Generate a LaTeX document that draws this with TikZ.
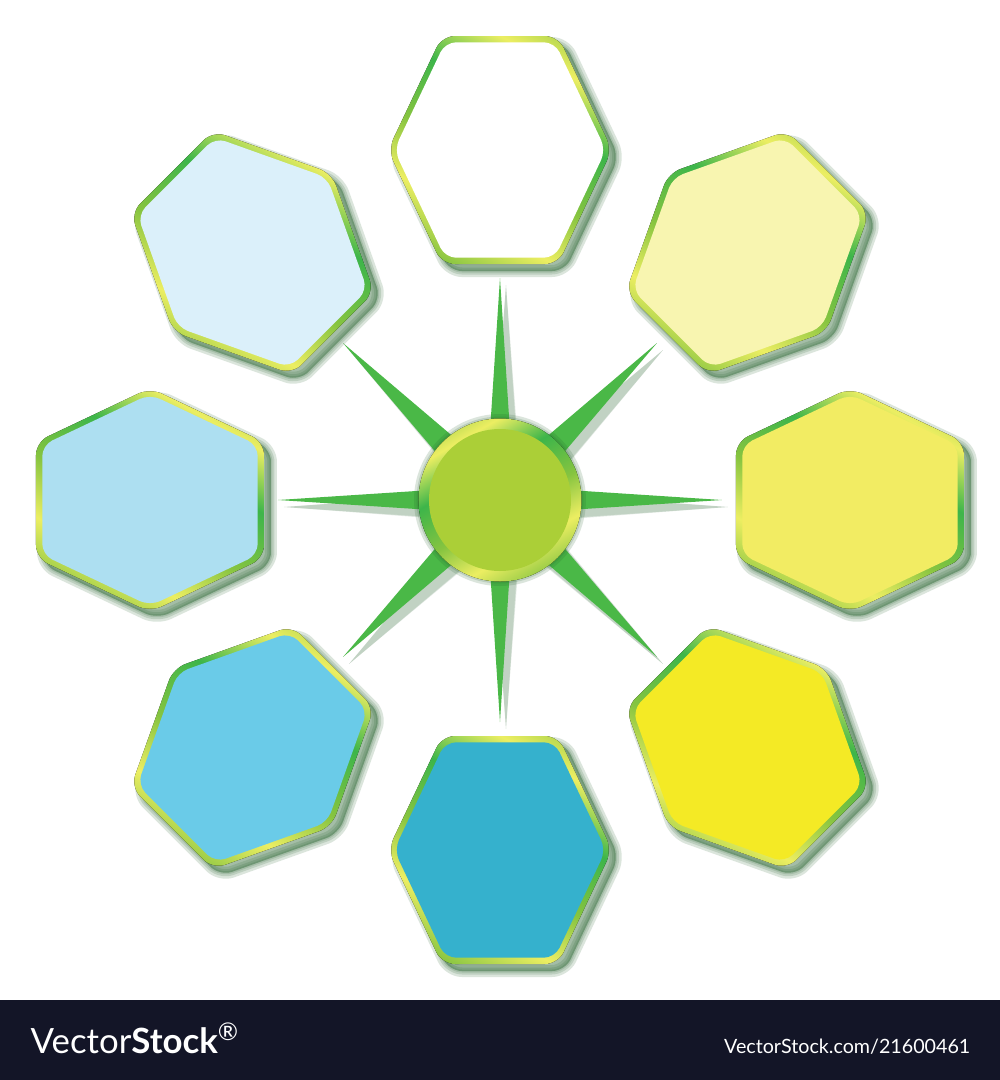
\documentclass[tikz,border=0pt]{standalone}
\usepackage{fontspec}
\setmainfont{Lato}
\definecolor{rimgreen}{HTML}{3DB54A}
\definecolor{rimlime}{HTML}{86C440}
\definecolor{rimyellow}{HTML}{ECEE62}
\definecolor{spikegreen}{HTML}{4AB847}
\definecolor{hubfill}{HTML}{ABCF37}
\definecolor{shadowgreen}{HTML}{23602A}
\definecolor{footbg}{HTML}{131527}
\definecolor{cellN}{HTML}{FFFFFF}
\definecolor{cellNE}{HTML}{F8F5B0}
\definecolor{cellE}{HTML}{F2EC63}
\definecolor{cellSE}{HTML}{F4EA25}
\definecolor{cellS}{HTML}{35B1CD}
\definecolor{cellSW}{HTML}{6ACBE8}
\definecolor{cellW}{HTML}{ADDFF1}
\definecolor{cellNW}{HTML}{DBF0FA}
\pgfdeclarehorizontalshading{rimshade}{100bp}{color(0bp)=(rimgreen); color(22bp)=(rimlime); color(34bp)=(rimyellow); color(46bp)=(rimlime); color(60bp)=(rimgreen); color(72bp)=(rimyellow); color(84bp)=(rimlime); color(100bp)=(rimgreen)}
\newcommand{\hexpath}{(112,0) -- (58,114) -- (-58,114) -- (-112,0) -- (-58,-114) -- (58,-114) -- cycle}
\tikzset{
  cell shadow/.style={shadowgreen, opacity=.16, rounded corners=1.3mm},
  cell rim/.style={shading=rimshade, shading angle=60, rounded corners=1.3mm},
  spike/.style={fill=spikegreen},
}
\begin{document}
\begin{tikzpicture}[x=.1mm, y=.1mm, line join=round]
  \useasboundingbox (-500,-580) rectangle (500,500);
  \fill[white] (-500,-500) rectangle (500,500);
  \coordinate (hub) at (0,0);
  % spikes
  \foreach \a/\w in {0/8,45/10,90/8,135/10,180/8,225/10,270/8,315/10}{
    \foreach \s in {1.4,.9,.4}
      \fill[shadowgreen, opacity=.1, xshift=.6mm, yshift=-.7mm] (\a:222) -- (\a+\w+\s:71) -- (\a-\w-\s:71) -- cycle;
    \fill[spike] (\a:222) -- (\a+\w:71) -- (\a-\w:71) -- cycle;
  }
  % hub
  \foreach \w in {1.2,.7,.3}
    \filldraw[shadowgreen, opacity=.16, line width=\w mm, xshift=.6mm, yshift=-.6mm] (hub) circle (80);
  \fill[shading=rimshade, shading angle=120] (hub) circle (81.5);
  \fill[hubfill] (hub) circle (71);
  % cells
  \foreach \a/\c in {90/cellN,45/cellNE,0/cellE,-45/cellSE,-90/cellS,-135/cellSW,180/cellW,135/cellNW}{
    \coordinate (cell\c) at (\a:350);
    \begin{scope}[shift={(\a:350)}, xshift=.7mm, yshift=-.7mm, rotate=\a-90]
      \foreach \w in {1.2,.7,.3}
        \filldraw[cell shadow, line width=\w mm] \hexpath;
    \end{scope}
    \begin{scope}[shift={(\a:350)}, rotate=\a-90]
      \fill[cell rim] \hexpath;
      \fill[\c, rounded corners=1.1mm, scale=.945] \hexpath;
    \end{scope}
  }
  % footer
  \fill[footbg] (-500,-500) rectangle (500,-580);
  \node[anchor=base west, inner sep=0, text=white, font=\fontsize{9.9}{12}\selectfont] (logo) at (-470,-553) {Vector\textbf{Stock}\textsuperscript{\textregistered}};
  \node[anchor=base east, inner sep=0, text=white, font=\fontsize{5.6}{7}\selectfont] (weblink) at (471,-553) {VectorStock.com/21600461};
\end{tikzpicture}
\end{document}
